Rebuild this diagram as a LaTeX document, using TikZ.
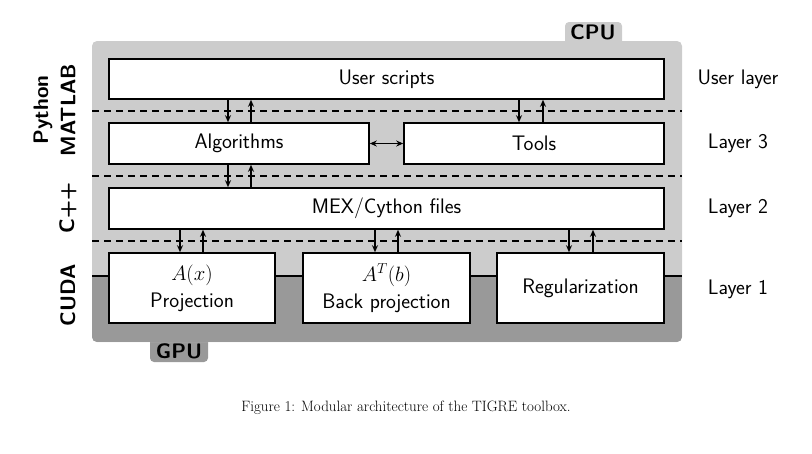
\documentclass[tikz,border=0pt]{standalone}
\usetikzlibrary{arrows.meta}
\begin{document}
\begin{tikzpicture}[x=1pt,y=-1pt,
 box/.style={draw,line width=1.6pt,fill=white,font=\sffamily\fontsize{21}{25}\selectfont,inner sep=0},
 lab/.style={font=\sffamily\bfseries\fontsize{21}{25}\selectfont},
 rl/.style={font=\sffamily\fontsize{21}{25}\selectfont},
 arr/.style={line width=1.6pt,-{Stealth[length=7pt,width=6pt]}}]
\useasboundingbox (0,0) rectangle (812,453);
\fill[gray!40,rounded corners=4] (565,22) rectangle (622,50);
\fill[gray!80,rounded corners=4] (150,330) rectangle (208,362);
\fill[gray!40,rounded corners=5] (92,41) rectangle (682,342);
\begin{scope}
\clip[rounded corners=5] (92,41) rectangle (682,342);
\fill[gray!80] (92,276) rectangle (682,342);
\end{scope}
\draw[line width=2.5pt] (92,276) -- (682,276);
\node[lab] (cpu) at (593,32) {CPU};
\node[lab] (gpu) at (179,351) {GPU};
\foreach \y in {111,176,241} \draw[line width=1.6pt,dash pattern=on 7pt off 5pt] (92,\y) -- (682,\y);
\node[box,minimum width=555,minimum height=40] (us) at (386.5,79) {User scripts};
\node[box,minimum width=260,minimum height=41] (alg) at (239,143.5) {Algorithms};
\node[box,minimum width=260,minimum height=41] (tools) at (534,143.5) {Tools};
\node[box,minimum width=555,minimum height=41] (mex) at (386.5,208.5) {MEX/Cython files};
\node[box,minimum width=166,minimum height=70,align=center] (proj) at (192,288) {$A(x)$\\[2pt]Projection};
\node[box,minimum width=167,minimum height=70,align=center] (bp) at (386.5,288) {$A^T(b)$\\[2pt]Back projection};
\node[box,minimum width=167,minimum height=70] (reg) at (580.5,288) {Regularization};
\draw[line width=1.6pt,{Stealth[length=7pt,width=6pt]}-{Stealth[length=7pt,width=6pt]}] (alg) -- (tools);
\draw[arr] (us.south -| 228,0) -- (alg.north -| 228,0);
\draw[arr] (alg.north -| 251,0) -- (us.south -| 251,0);
\draw[arr] (us.south -| 519,0) -- (tools.north -| 519,0);
\draw[arr] (tools.north -| 543,0) -- (us.south -| 543,0);
\draw[arr] (alg.south -| 228,0) -- (mex.north -| 228,0);
\draw[arr] (mex.north -| 251,0) -- (alg.south -| 251,0);
\foreach \a/\b/\n in {180/203/proj,375/398/bp,569/593/reg}{
 \draw[arr] (mex.south -| \a,0) -- (\n.north -| \a,0);
 \draw[arr] (\n.north -| \b,0) -- (mex.south -| \b,0);}
\node[lab,rotate=90] (py) at (43,110) {Python};
\node[lab,rotate=90] (ml) at (68,110) {MATLAB};
\node[lab,rotate=90] (cpp) at (68,208) {C++};
\node[lab,rotate=90] (cuda) at (68,295) {CUDA};
\node[rl] (l0) at (738,79) {User layer};
\node[rl] (l3) at (738,143.5) {Layer 3};
\node[rl] (l2) at (738,208.5) {Layer 2};
\node[rl] (l1) at (738,289) {Layer 1};
\node[font=\fontsize{15}{18}\selectfont] (cap) at (406,408) {Figure 1: Modular architecture of the TIGRE toolbox.};
\end{tikzpicture}
\end{document}
